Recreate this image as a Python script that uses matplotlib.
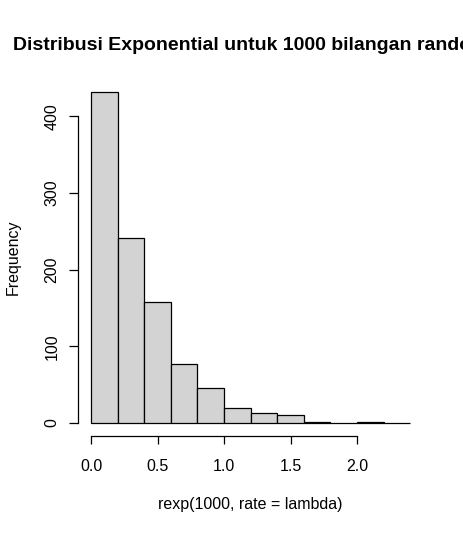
import matplotlib
matplotlib.use("Agg")
import matplotlib.pyplot as plt
import numpy as np

# histogram of rexp(1000, rate = lambda), bins of width 0.2
bin_edges = [0.0, 0.2, 0.4, 0.6, 0.8, 1.0, 1.2, 1.4, 1.6, 1.8, 2.0, 2.2, 2.4]
counts = [432, 241, 158, 77, 46, 19, 13, 10, 2, 0, 2, 0]
x_ticks = [0.0, 0.5, 1.0, 1.5, 2.0]
x_tick_labels = ["0.0", "0.5", "1.0", "1.5", "2.0"]
y_ticks = [0, 100, 200, 300, 400]

plt.rcParams['font.family'] = ['Liberation Sans', 'DejaVu Sans']

W, H = 464, 534
fig = plt.figure(figsize=(W / 100, H / 100), dpi=100)
left, right, top, bottom = 78.3, 423.0, 78.4, 436.3
ax = fig.add_axes([left / W, 1 - bottom / H, (right - left) / W, (bottom - top) / H])

edges = np.array(bin_edges)
widths = np.diff(edges)
ax.bar(edges[:-1], counts, width=widths, align='edge',
       color='#D3D3D3', edgecolor='black', linewidth=0.9)

# R style: ranges padded by 4%
xr = edges[-1] - edges[0]
ax.set_xlim(edges[0] - 0.04 * xr, edges[-1] + 0.04 * xr)
yr = max(counts)
ax.set_ylim(-0.04 * yr, yr * 1.04)

for s in ['top', 'right']:
    ax.spines[s].set_visible(False)
ax.spines['left'].set_bounds(y_ticks[0], y_ticks[-1])
ax.spines['bottom'].set_bounds(x_ticks[0], x_ticks[-1])
for s in ['left', 'bottom']:
    ax.spines[s].set_linewidth(0.9)

ax.set_xticks(x_ticks)
ax.set_xticklabels(x_tick_labels)
ax.set_yticks(y_ticks)
ax.set_yticklabels([str(v) for v in y_ticks], rotation=90, va='center')
ax.tick_params(axis='x', length=6, width=0.9, pad=10, labelsize=11.5)
ax.tick_params(axis='y', length=6.5, width=0.9, pad=7, labelsize=11.5)

fig.text((left + right) / 2 / W, 1 - 45 / H,
         "Distribusi Exponential untuk 1000 bilangan random",
         ha='center', va='center', fontsize=14, fontweight='bold')
fig.text((left + right) / 2 / W, 1 - 505 / H, "rexp(1000, rate = lambda)",
         ha='center', va='center', fontsize=11.5)
fig.text(13 / W, 1 - 257 / H, "Frequency", rotation=90,
         ha='center', va='center', fontsize=11.5)

fig.savefig("out.png", dpi=100)
